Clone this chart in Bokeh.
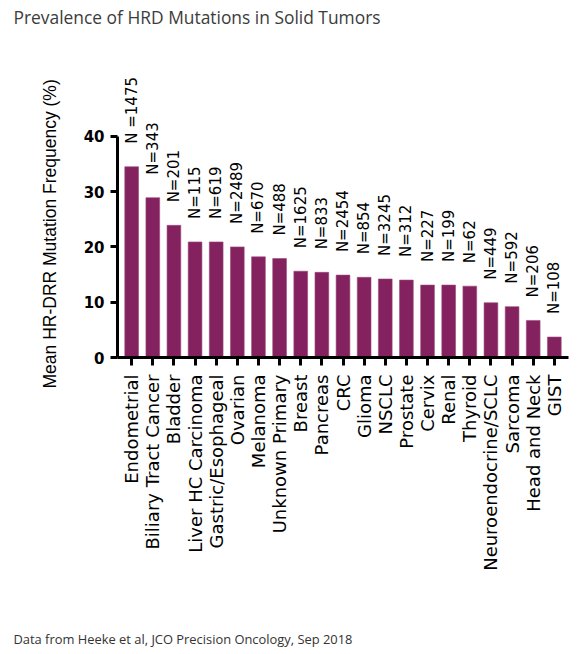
from math import pi
from bokeh.plotting import figure
from bokeh.models import FactorRange, Range1d, FixedTicker, ColumnDataSource, Title
from bokeh.core.properties import value
from bokeh.embed import file_html
from bokeh.resources import INLINE

tumors = ["Endometrial", "Biliary Tract Cancer", "Bladder", "Liver HC Carcinoma",
          "Gastric/Esophageal", "Ovarian", "Melanoma", "Unknown Primary", "Breast",
          "Pancreas", "CRC", "Glioma", "NSCLC", "Prostate", "Cervix", "Renal",
          "Thyroid", "Neuroendocrine/SCLC", "Sarcoma", "Head and Neck", "GIST"]
frequency = [34.5, 28.9, 23.9, 20.9, 20.9, 20.0, 18.2, 17.9, 15.6, 15.4, 14.9,
             14.5, 14.2, 14.0, 13.1, 13.1, 12.9, 9.9, 9.2, 6.7, 3.7]
n_labels = ["N =1475", "N=343", "N=201", "N=115", "N=619", "N=2489", "N=670",
            "N=488", "N=1625", "N=833", "N=2454", "N=854", "N=3245", "N=312",
            "N=227", "N=199", "N=62", "N=449", "N=592", "N=206", "N=108"]
y_ticks = [0, 10, 20, 30, 40]

src = ColumnDataSource(dict(x=tumors, top=frequency, lab=n_labels))

p = figure(x_range=FactorRange(*tumors, range_padding=0.17, range_padding_units="absolute"),
           y_range=Range1d(0, 51),
           width=580, height=650, output_backend="svg", toolbar_location=None,
           min_border_left=117, min_border_right=12, min_border_top=72,
           min_border_bottom=293)
p.outline_line_color = None
p.xgrid.visible = False
p.ygrid.visible = False
p.background_fill_color = "white"

p.vbar(x="x", top="top", bottom=0, width=0.65, source=src,
       fill_color="#84215f", line_color="#9a4a7c", line_width=0.6)

p.text(x="x", y="top", text="lab", source=src, angle=pi / 2, y_offset=-23,
       text_align="left", text_baseline="middle",
       text_font=value("DejaVu Sans"), text_font_size="15px", text_color="black")

ya = p.yaxis[0]
ya.ticker = FixedTicker(ticks=y_ticks)
ya.bounds = (0, 40)
ya.major_label_text_font = "DejaVu Sans"
ya.major_label_text_font_style = "bold"
ya.major_label_text_font_size = "15px"
ya.major_label_text_color = "black"
ya.major_label_standoff = 6
ya.axis_line_width = 3
ya.major_tick_line_width = 3
ya.major_tick_out = 7
ya.major_tick_in = 0
ya.minor_tick_line_color = None

xa = p.xaxis[0]
xa.major_label_orientation = pi / 2
xa.major_label_text_font = "DejaVu Sans"
xa.major_label_text_font_size = "18px"
xa.major_label_text_color = "black"
xa.major_label_standoff = 9
xa.axis_line_width = 3
xa.major_tick_line_width = 3
xa.major_tick_out = 8
xa.major_tick_in = 0

# y-axis title, positioned along the axis
p.add_layout(Title(text="Mean HR-DRR Mutation Frequency (%)", align="left", offset=-31,
                   text_font="Liberation Sans", text_font_size="17.5px",
                   text_font_style="normal", text_color="black", standoff=42), "left")

# spacer between x axis and footer, then the footer
p.add_layout(Title(text=" ", text_font_size="1px", standoff=49), "below")
p.add_layout(Title(text="Data from Heeke et al, JCO Precision Oncology, Sep 2018",
                   align="left", offset=-104, text_font="Open Sans",
                   text_font_size="12.9px", text_font_style="normal",
                   text_color="#333333", standoff=4), "below")
# spacer between frame and title, then the title
p.add_layout(Title(text=" ", text_font_size="1px", standoff=42), "above")
p.add_layout(Title(text="Prevalence of HRD Mutations in Solid Tumors",
                   align="left", offset=-104, text_font="Open Sans",
                   text_font_size="17.4px", text_font_style="normal",
                   text_color="#3c3c3c", standoff=4), "above")

open("out.html", "w").write(file_html(p, INLINE))
